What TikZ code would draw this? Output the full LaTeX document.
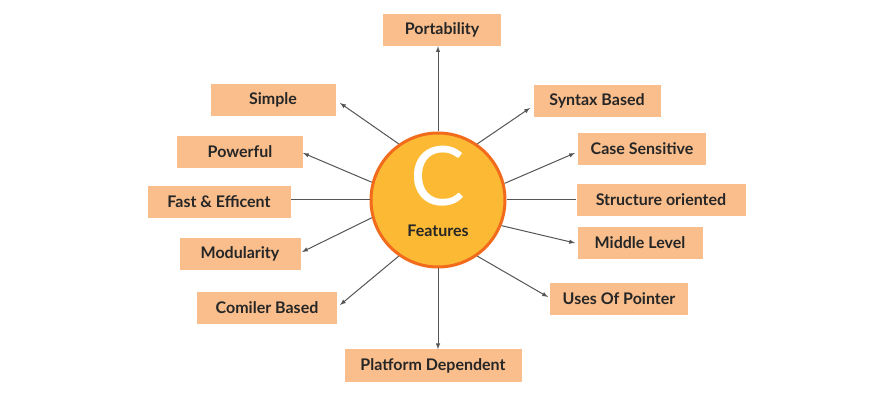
\documentclass[tikz,border=0pt]{standalone}
\usepackage{fontspec}
\setmainfont{Lato}
\definecolor{boxc}{HTML}{F9BE8C}
\definecolor{circf}{HTML}{FBB934}
\definecolor{circd}{HTML}{F26B1D}
\definecolor{linec}{HTML}{555555}
\begin{document}
\begin{tikzpicture}[x=1pt,y=-1pt,
 feat/.style={fill=boxc,inner sep=0pt,anchor=center,font=\fontsize{16}{19}\selectfont\bfseries,text=black!85,
   append after command={[draw=black!35,line width=1.2pt] (\tikzlastnode.south west) -- (\tikzlastnode.south east)}},
 conn/.style={draw=linec,line width=1pt,-latex},
 plain/.style={draw=linec,line width=1pt}]
\useasboundingbox (0,0) rectangle (887,411);
\node[circle,fill=circf,draw=circd,line width=3pt,minimum size=134pt,inner sep=0pt] (c) at (438,200) {};
\node[text=white,inner sep=0pt,font=\fontsize{82}{82}\selectfont] (cl) at (438,176) {C};
\node[inner sep=0pt,font=\fontsize{16}{19}\selectfont\bfseries,text=black!85] (cf) at (438,231) {Features};
\node[feat,minimum width=118pt,minimum height=32pt] (p) at (442,30) {Portability};
\node[feat,minimum width=125pt,minimum height=32pt] (s) at (273,100) {Simple};
\node[feat,minimum width=127pt,minimum height=32pt] (sb) at (597,101) {Syntax Based};
\node[feat,minimum width=126pt,minimum height=32pt] (pw) at (240,152) {Powerful};
\node[feat,minimum width=128pt,minimum height=32pt] (cs) at (642,149) {Case Sensitive};
\node[feat,minimum width=143pt,minimum height=32pt] (fe) at (219,202) {Fast \& Efficent};
\node[feat,minimum width=169pt,minimum height=32pt] (so) at (661,200) {Structure oriented};
\node[feat,minimum width=121pt,minimum height=32pt] (m) at (240,254) {Modularity};
\node[feat,minimum width=125pt,minimum height=32pt] (ml) at (640,243) {Middle Level};
\node[feat,minimum width=140pt,minimum height=32pt] (cb) at (267,308) {Comiler Based};
\node[feat,minimum width=138pt,minimum height=32pt] (up) at (619,299) {Uses Of Pointer};
\node[feat,minimum width=177pt,minimum height=33pt] (pd) at (433,366) {Platform Dependent};
\coordinate (e1) at (340,103);
\coordinate (e2) at (530,108);
\coordinate (e3) at (303,153);
\coordinate (e4) at (575,153);
\coordinate (e5) at (302,252);
\coordinate (e6) at (575,243);
\coordinate (e7) at (340,305);
\coordinate (e8) at (548,297);
\draw[conn] (c.north) -- (p.south -| c.north);
\draw[conn] (c.125) -- (e1);
\draw[conn] (c.55) -- (e2);
\draw[conn] (c.165) -- (e3);
\draw[conn] (c.14) -- (e4);
\draw[plain] (c.west) -- (fe.east |- c.west);
\draw[plain] (c.east) -- (so.west |- c.east);
\draw[conn] (c.195) -- (e5);
\draw[conn] (c.-22) -- (e6);
\draw[conn] (c.235) -- (e7);
\draw[conn] (c.-55) -- (e8);
\draw[conn] (c.south) -- (pd.north -| c.south);
\end{tikzpicture}
\end{document}
